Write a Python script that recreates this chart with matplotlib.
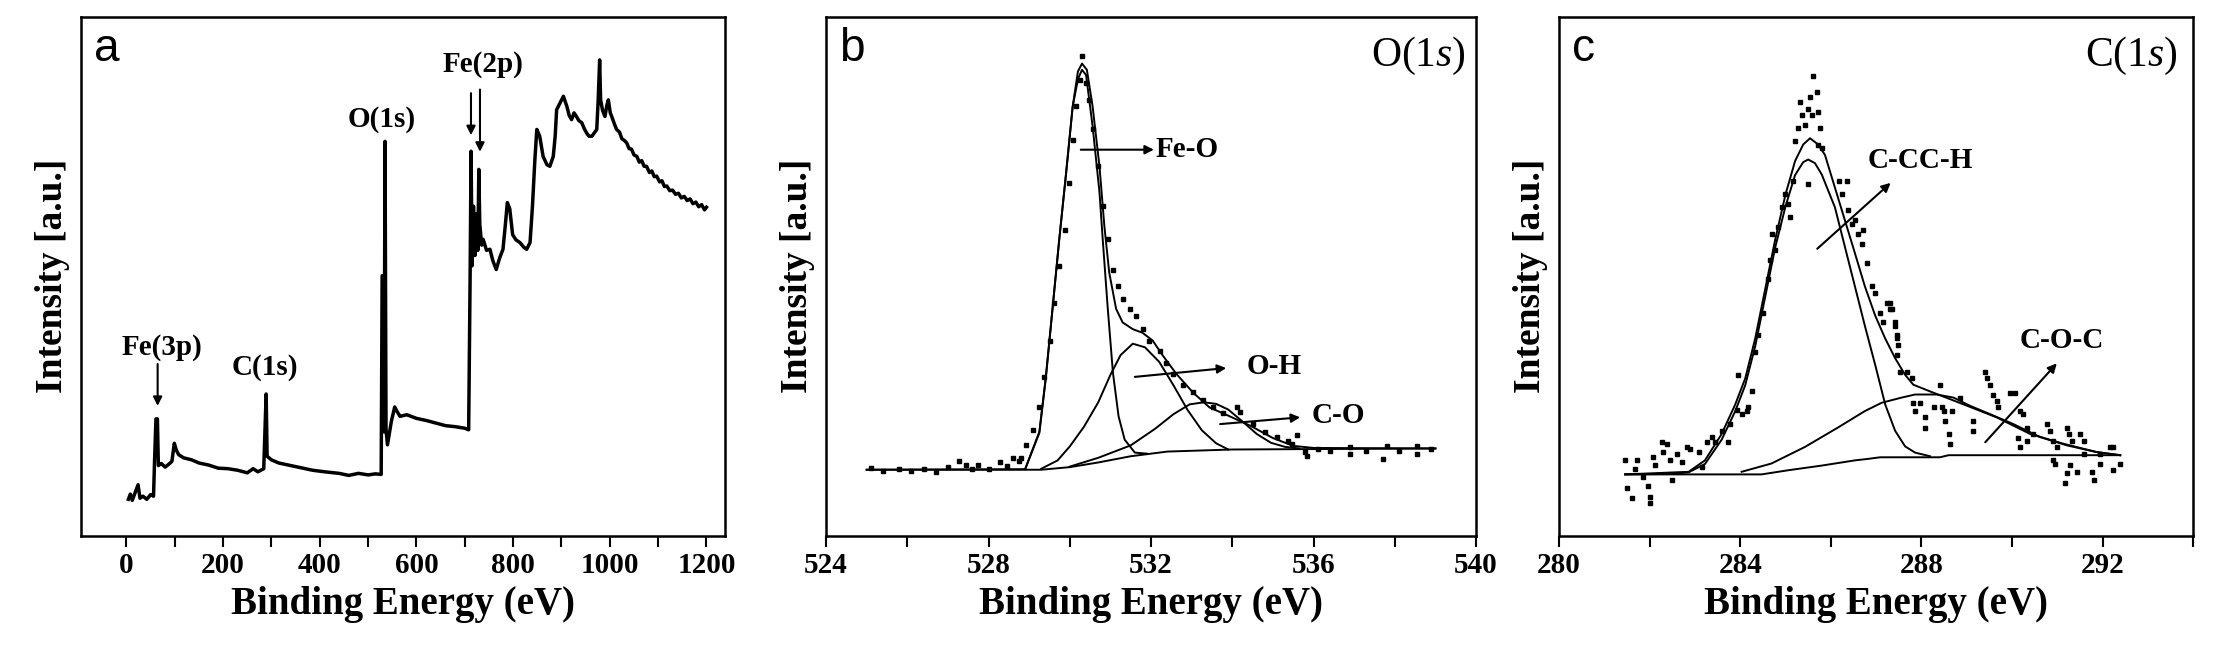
import matplotlib
matplotlib.use('Agg')
import matplotlib.pyplot as plt
from matplotlib.ticker import MultipleLocator

plt.rcParams['font.family'] = ['Liberation Serif', 'DejaVu Serif']
plt.rcParams['mathtext.fontset'] = 'custom'
plt.rcParams['mathtext.rm'] = 'Liberation Serif'
plt.rcParams['mathtext.it'] = 'Liberation Serif:italic'

# ---- (a) survey spectrum ----
survey_E = [4, 8, 12, 18, 24, 28, 34, 42, 50, 56, 58, 61, 64, 66, 72, 80, 88, 94, 99, 103, 108,
            118, 135, 150, 170, 190, 210, 230, 250, 262, 272, 284, 289, 291, 300, 315, 335, 360,
            385, 410, 440, 460, 480, 500, 515, 527, 529, 531, 533, 535, 537, 540, 542, 548, 555,
            560, 566, 580, 600, 620, 640, 660, 680, 700, 708, 711, 713, 715, 718, 721, 724, 727,
            729, 731, 735, 738, 745, 752, 758, 765, 772, 779, 784, 788, 793, 799, 806, 814, 822,
            828, 835, 840, 845, 849, 855, 862, 870, 876, 883, 887, 890, 897, 904, 911, 916, 921,
            926, 931, 936, 942, 947, 952, 957, 963, 969, 973, 976, 979, 981, 985, 990, 994, 997,
            1001, 1004, 1009, 1014, 1020, 1025, 1030, 1035, 1040, 1045, 1050, 1056, 1061, 1066,
            1071, 1076, 1082, 1087, 1092, 1097, 1103, 1108, 1113, 1118, 1124, 1130, 1136, 1142,
            1148, 1154, 1160, 1166, 1172, 1178, 1184, 1190, 1196, 1200]
survey_I = [7.0, 8.0, 6.8, 8.3, 9.8, 7.2, 7.6, 7.0, 7.9, 7.6, 14.0, 22.5, 22.5, 13.5, 13.9, 13.2,
            13.8, 14.3, 17.8, 16.5, 15.6, 15.0, 14.6, 14.0, 13.6, 13.0, 12.9, 12.6, 12.1, 12.9,
            12.3, 12.9, 27.3, 15.3, 14.6, 14.0, 13.6, 13.1, 12.6, 12.3, 12.0, 11.6, 12.0, 11.7,
            11.9, 11.8, 50.1, 50.1, 20.0, 76.0, 20.5, 17.5, 18.6, 22.0, 24.8, 23.9, 23.0, 23.3,
            22.6, 22.2, 21.7, 21.2, 21.0, 20.7, 20.4, 50.0, 74.1, 52.0, 63.5, 54.0, 62.0, 55.0,
            70.6, 60.0, 56.0, 57.1, 55.0, 55.2, 53.0, 51.3, 53.5, 55.2, 60.0, 64.2, 63.0, 58.0,
            57.0, 56.5, 55.6, 55.2, 56.5, 63.5, 72.5, 78.3, 77.0, 73.1, 71.5, 71.2, 73.1, 77.0,
            82.1, 83.4, 84.7, 82.8, 81.0, 80.2, 81.5, 80.8, 80.0, 79.6, 78.5, 77.6, 77.0, 77.0,
            77.8, 78.3, 84.0, 91.7, 84.0, 82.0, 80.8, 83.0, 84.0, 81.5, 80.8, 79.5, 78.3, 77.8,
            76.5, 76.2, 75.7, 74.6, 74.5, 73.4, 73.1, 72.0, 72.3, 71.2, 71.2, 70.0, 70.3, 69.2,
            69.3, 68.2, 68.4, 67.3, 67.4, 66.5, 66.6, 65.8, 66.0, 65.1, 65.4, 64.6, 64.9, 64.0,
            64.3, 63.4, 63.8, 62.8, 63.3]

# ---- (b) O 1s ----
b_bg_E = [525.0, 529.3, 530.0, 530.7, 531.5, 532.4, 534.0, 539.0]
b_bg_I = [12.7, 12.7, 13.2, 14.1, 15.3, 16.2, 16.6, 16.8]
b_feo_E = [528.9, 529.25, 529.41, 529.58, 529.74, 529.91, 530.07, 530.2, 530.3, 530.4, 530.56,
           530.73, 530.81, 530.93, 531.06, 531.2, 531.35, 531.6, 531.9]
b_feo_I = [12.8, 19.8, 30.5, 44.2, 57.1, 70.0, 82.7, 88.0, 89.8, 88.8, 79.0, 66.2, 57.1, 44.2,
           31.5, 23.0, 18.5, 16.0, 15.8]
b_oh_E = [529.3, 529.7, 530.0, 530.35, 530.7, 531.0, 531.25, 531.55, 531.85, 532.2, 532.55,
          532.9, 533.25, 533.6, 533.9]
b_oh_I = [12.9, 14.5, 17.2, 21.0, 25.7, 31.0, 34.8, 37.0, 36.3, 33.5, 29.0, 24.2, 20.3, 17.8, 16.6]
b_co_E = [530.0, 530.7, 531.5, 532.1, 532.55, 532.95, 533.3, 533.6, 533.9, 534.25, 534.6,
          534.95, 535.3, 535.65]
b_co_I = [13.3, 15.0, 17.4, 20.6, 23.4, 25.3, 25.7, 25.4, 24.3, 22.0, 19.6, 17.9, 17.1, 16.8]
b_env_E = [525.0, 528.9, 529.25, 529.41, 529.58, 529.74, 529.91, 530.07, 530.2, 530.3, 530.42,
           530.56, 530.73, 530.85, 530.97, 531.14, 531.3, 531.55, 531.79, 532.04, 532.29,
           532.62, 533.03, 533.44, 533.85, 534.44, 535.0, 535.5, 536.0, 539.0]
b_env_I = [12.7, 12.8, 20.0, 30.5, 44.2, 57.1, 70.0, 82.7, 89.5, 91.0, 89.8, 82.8, 71.2, 59.7,
           50.7, 43.7, 41.1, 39.8, 39.1, 37.6, 34.7, 31.2, 27.6, 24.7, 23.3, 21.2, 18.8, 17.3,
           16.9, 16.8]
b_pts_E = [525.1, 525.4, 525.8, 526.1, 526.4, 526.7, 527.0, 527.28, 527.45, 527.6, 527.73, 528.0,
           528.27, 528.45, 528.6, 528.76, 528.8, 528.92, 529.09, 529.25, 529.37, 529.5, 529.62,
           529.74, 529.87, 529.99, 530.07, 530.15, 530.24, 530.3, 530.4, 530.48, 530.56, 530.69,
           530.81, 530.93, 531.06, 531.18, 531.3, 531.47, 531.63, 531.79, 531.96, 532.21, 532.37,
           532.53, 532.78, 533.03, 533.27, 533.52, 533.76, 534.11, 534.19, 534.5, 534.8, 535.1,
           535.38, 535.46, 535.59, 535.79, 535.83, 536.1, 536.4, 536.9, 536.9, 537.3, 537.71,
           537.8, 538.1, 538.55, 538.55, 538.9]
b_pts_I = [13.0, 12.5, 12.9, 12.4, 12.9, 12.3, 13.2, 14.3, 13.6, 12.9, 13.6, 12.8, 14.2, 13.4,
           15.0, 14.3, 15.0, 17.5, 20.4, 24.7, 30.5, 37.6, 44.9, 52.0, 59.0, 68.0, 76.3, 82.8,
           87.9, 92.4, 87.3, 84.0, 78.3, 71.2, 63.5, 57.1, 51.3, 48.1, 45.6, 43.7, 42.4, 39.8,
           37.6, 35.5, 33.3, 31.2, 29.0, 27.6, 26.1, 24.7, 23.6, 24.7, 23.8, 21.5, 20.0, 19.0,
           18.3, 17.7, 19.3, 16.1, 15.4, 16.6, 16.4, 15.8, 17.1, 16.4, 14.8, 17.3, 16.4, 17.3,
           15.8, 16.6]

# ---- (c) C 1s ----
c_bg_E = [281.46, 284.47, 285.06, 285.8, 286.53, 286.83, 287.09, 288.41, 288.6, 292.39]
c_bg_I = [11.8, 11.8, 12.6, 13.5, 14.5, 14.8, 15.1, 15.1, 15.5, 15.5]
c_cc_E = [281.46, 282.5, 282.86, 283.22, 283.59, 283.89, 284.11, 284.33, 284.55, 284.77, 285.0,
          285.21, 285.39, 285.5, 285.65, 285.8, 286.09, 286.31, 286.53, 286.75, 286.98, 287.2,
          287.42, 287.64, 287.86, 288.19]
c_cc_I = [11.8, 11.9, 12.2, 13.8, 18.5, 24.0, 29.0, 36.5, 46.0, 55.5, 63.5, 69.5, 72.0, 72.5,
          71.8, 69.6, 63.3, 55.7, 48.1, 40.5, 32.9, 25.3, 20.2, 17.2, 16.0, 15.3]
c_coc_E = [284.03, 284.69, 285.43, 286.17, 286.75, 287.12, 287.56, 287.86, 288.34, 288.71,
           289.08, 289.52, 290.03, 290.62, 291.21, 291.87, 292.39]
c_coc_I = [12.3, 13.9, 17.1, 20.9, 24.0, 25.6, 26.6, 27.2, 27.2, 26.6, 25.0, 23.4, 21.5, 19.0,
           17.4, 16.1, 15.5]
c_env_E = [281.46, 282.86, 283.22, 283.59, 283.89, 284.11, 284.33, 284.55, 284.77, 285.0, 285.21,
           285.39, 285.54, 285.72, 285.87, 286.09, 286.31, 286.53, 286.75, 286.98, 287.2, 287.42,
           287.64, 287.82, 288.19, 288.93, 289.66, 290.4, 291.14, 291.87, 292.39]
c_env_I = [11.8, 12.3, 14.5, 19.6, 25.3, 30.3, 38.0, 47.5, 57.0, 65.8, 72.2, 75.4, 76.6, 75.4,
           73.4, 67.1, 60.8, 54.5, 48.1, 42.4, 38.0, 34.2, 31.0, 29.1, 27.8, 25.3, 22.8, 19.6,
           17.7, 16.1, 15.5]
c_pts_E = [281.46, 281.49, 281.6, 281.71, 281.68, 281.86, 281.97, 282.01, 282.01, 282.08, 282.12,
           282.27, 282.3, 282.38, 282.45, 282.49, 282.6, 282.71, 282.82, 282.89, 283.08, 283.15,
           283.26, 283.37, 283.44, 283.59, 283.74, 283.77, 283.92, 283.96, 284.03, 284.14, 284.18,
           284.25, 284.33, 284.4, 284.51, 284.62, 284.66, 284.69, 284.77, 284.84, 284.92, 284.99,
           285.06, 285.1, 285.17, 285.21, 285.28, 285.32, 285.36, 285.43, 285.5, 285.54, 285.58,
           285.61, 285.69, 285.72, 285.76, 285.8, 285.5, 285.72, 286.17, 286.24, 286.35, 286.39,
           286.46, 286.53, 286.61, 286.68, 286.72, 286.79, 286.9, 286.98, 287.09, 287.16, 287.23,
           287.31, 287.42, 287.45, 287.49,
           287.31, 287.35, 287.42, 287.46, 287.46, 287.53, 287.68, 287.79, 287.82, 287.86, 287.97,
           288.08, 288.08, 288.27, 288.41, 288.45, 288.49, 288.52, 288.6, 288.63, 288.67, 288.85,
           289.15, 289.15, 289.41, 289.44, 289.52, 289.59, 289.66, 289.7, 289.96, 290.07, 290.18,
           290.25, 290.33, 290.14, 290.18, 290.33, 290.47, 290.77, 290.84, 290.91, 290.99, 291.21,
           291.25, 291.32, 291.5, 291.58, 290.91, 290.95, 291.17, 291.21, 291.28, 291.43, 291.76,
           291.8, 291.95, 292.24, 292.24, 292.39, 291.58, 291.95, 292.17]
c_pts_I = [14.5, 9.1, 7.2, 14.5, 12.9, 11.3, 9.5, 7.5, 6.3, 15.2, 13.6, 18.0, 16.1, 17.7, 14.5,
           10.7, 15.8, 14.2, 17.1, 16.7, 16.1, 13.2, 18.0, 19.0, 18.0, 20.2, 18.0, 21.5, 24.3,
           31.0, 23.4, 24.0, 24.7, 27.8, 35.4, 38.6, 43.0, 49.4, 53.2, 58.2, 55.1, 59.5, 63.3,
           65.8, 63.9, 61.4, 68.4, 76.0, 78.5, 83.6, 81.1, 79.2, 82.3, 84.5, 81.1, 88.7, 85.5,
           81.7, 78.5, 74.7, 67.7, 75.4, 68.4, 65.8, 68.4, 62.7, 60.1, 60.8, 58.2, 56.3, 58.9,
           52.5, 48.1, 46.8, 43.0, 41.1, 44.9, 43.7, 41.1, 38.6, 36.7,
           44.9, 43.7, 40.5, 38.0, 34.8, 31.6, 31.6, 30.4, 25.6, 24.0, 25.6, 22.8, 20.8, 24.7,
           29.1, 24.7, 24.0, 22.1, 19.6, 17.7, 24.0, 26.6, 22.1, 20.2, 31.6, 30.4, 29.1, 27.2,
           25.9, 24.7, 27.5, 27.5, 24.0, 23.4, 20.8, 18.9, 17.0, 18.3, 19.6, 21.5, 20.2, 18.3,
           17.0, 20.8, 19.6, 18.3, 19.6, 18.3, 14.5, 13.9, 10.1, 12.0, 13.6, 12.3, 12.3, 10.7,
           13.9, 17.0, 12.6, 13.9, 15.8, 15.8, 17.0]

XLABEL = 'Binding Energy (eV)'
YLABEL = 'Intensity [a.u.]'
BOLD = dict(fontweight='bold', fontsize=21)


def style_axes(ax, xlim, minor, ticks, letter):
    ax.set_xlim(*xlim)
    ax.set_ylim(0, 100)
    ax.set_yticks([])
    ax.set_xticks(ticks)
    ax.set_xticklabels([str(t) for t in ticks], fontweight='bold', fontsize=21)
    ax.xaxis.set_minor_locator(MultipleLocator(minor))
    ax.tick_params(axis='x', which='both', direction='out', length=8, width=1.5, pad=4)
    for s in ax.spines.values():
        s.set_linewidth(1.8)
    ax.set_xlabel(XLABEL, fontweight='bold', fontsize=28, labelpad=5)
    ax.set_ylabel(YLABEL, fontweight='bold', fontsize=27, labelpad=8)
    ax.text(0.02, 0.915, letter, transform=ax.transAxes, fontsize=33,
            family='Liberation Sans', va='baseline', ha='left')


def arrow(ax, start, end):
    ax.annotate('', xy=end, xytext=start,
                arrowprops=dict(arrowstyle='-|>', color='k', lw=1.5,
                                mutation_scale=13, shrinkA=0, shrinkB=0))


fig = plt.figure(figsize=(22.2, 6.5), dpi=100)
ax_a = fig.add_axes([0.0365, 0.176, 0.290, 0.798])
ax_b = fig.add_axes([0.3721, 0.176, 0.2928, 0.798])
ax_c = fig.add_axes([0.7023, 0.176, 0.2856, 0.798])

# (a)
ax_a.plot(survey_E, survey_I, color='k', lw=2.5)
style_axes(ax_a, (-94, 1238), 100, [0, 200, 400, 600, 800, 1000, 1200], 'a')
ax_a.text(72.8, 36.3, 'Fe(3p)', ha='center', va='center', **BOLD)
ax_a.text(286.6, 32.4, 'C(1s)', ha='center', va='center', **BOLD)
ax_a.text(528, 80.2, 'O(1s)', ha='center', va='center', **BOLD)
ax_a.text(738, 90.8, 'Fe(2p)', ha='center', va='center', **BOLD)
arrow(ax_a, (64.5, 33.1), (64.5, 25.0))
arrow(ax_a, (712.8, 85.3), (712.8, 77.2))
arrow(ax_a, (731.4, 86.0), (731.4, 74.0))

# (b)
ax_b.plot(b_pts_E, b_pts_I, ls='none', marker='s', ms=2.2, color='k')
for xs, ys in [(b_bg_E, b_bg_I), (b_feo_E, b_feo_I), (b_oh_E, b_oh_I),
               (b_co_E, b_co_I), (b_env_E, b_env_I)]:
    ax_b.plot(xs, ys, color='k', lw=1.4)
style_axes(ax_b, (524, 540), 2, [524, 528, 532, 536, 540], 'b')
arrow(ax_b, (530.27, 74.4), (532.07, 74.4))
ax_b.text(532.12, 74.4, 'Fe-O', ha='left', va='center', **BOLD)
arrow(ax_b, (531.6, 30.6), (533.85, 32.3))
ax_b.text(534.35, 32.6, 'O-H', ha='left', va='center', **BOLD)
arrow(ax_b, (533.7, 21.5), (535.67, 22.8))
ax_b.text(535.95, 23.1, 'C-O', ha='left', va='center', **BOLD)
ax_b.text(0.985, 0.905, r'O(1$\mathit{s}$)', transform=ax_b.transAxes, fontsize=30,
          ha='right', va='baseline')

# (c)
ax_c.plot(c_pts_E, c_pts_I, ls='none', marker='s', ms=2.2, color='k')
for xs, ys in [(c_bg_E, c_bg_I), (c_cc_E, c_cc_I), (c_coc_E, c_coc_I), (c_env_E, c_env_I)]:
    ax_c.plot(xs, ys, color='k', lw=1.4)
style_axes(ax_c, (280, 294), 2, [280, 284, 288, 292], 'c')
arrow(ax_c, (285.7, 55.3), (287.32, 68.0))
ax_c.text(287.97, 72.4, 'C-CC-H', ha='center', va='center', **BOLD)
arrow(ax_c, (289.41, 18.0), (290.99, 33.2))
ax_c.text(291.1, 37.7, 'C-O-C', ha='center', va='center', **BOLD)
ax_c.text(0.975, 0.905, r'C(1$\mathit{s}$)', transform=ax_c.transAxes, fontsize=30,
          ha='right', va='baseline')

fig.savefig('out.png', dpi=100)
